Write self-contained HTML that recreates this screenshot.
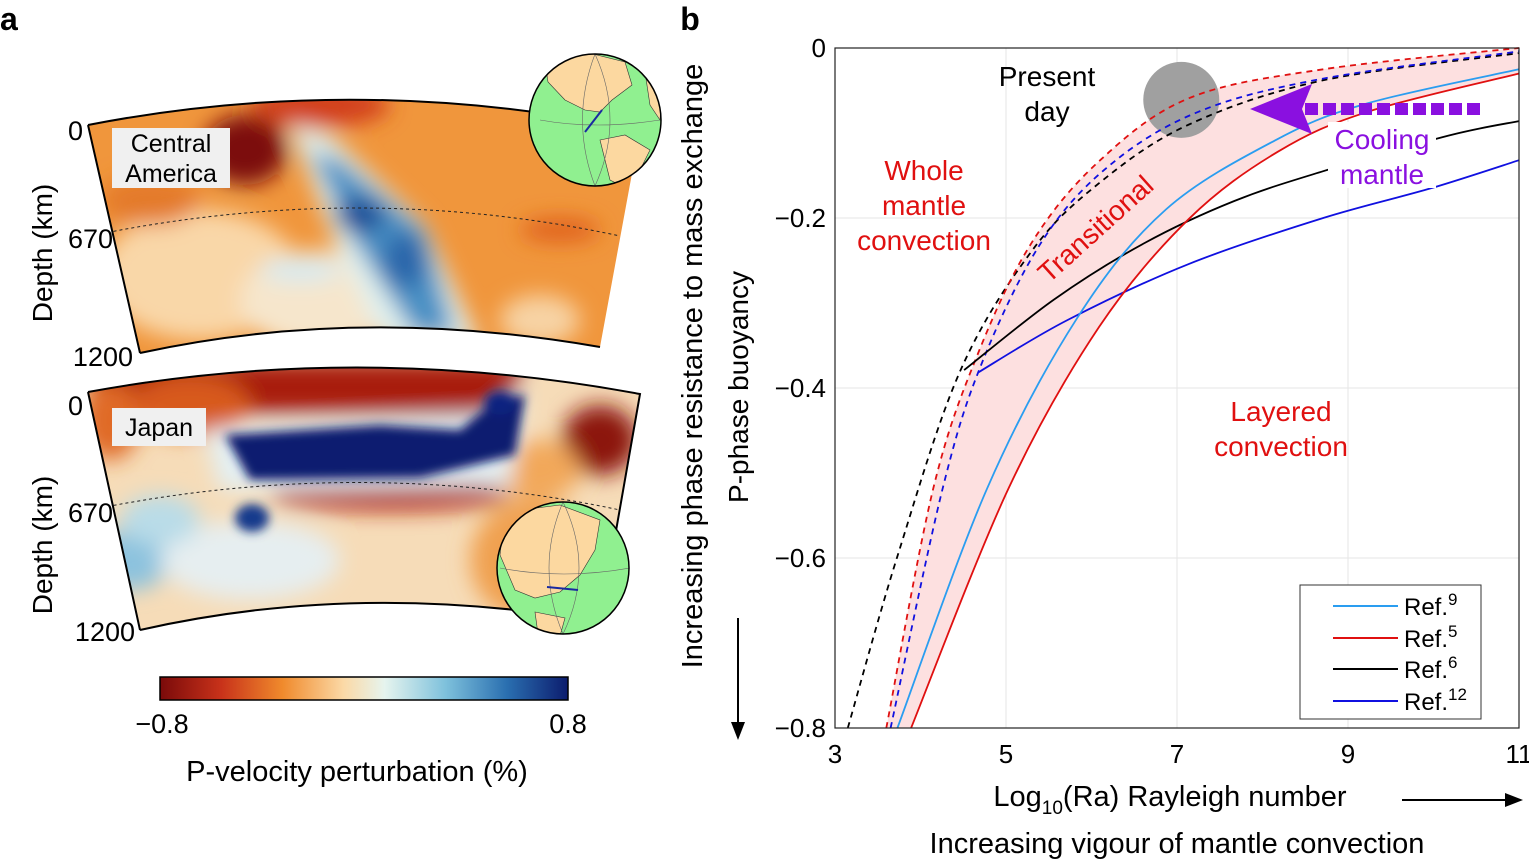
<!DOCTYPE html>
<html><head><meta charset="utf-8">
<style>
html,body{margin:0;padding:0;background:#fff;}
svg{display:block;font-family:"Liberation Sans",Arial,sans-serif;}
</style></head>
<body>
<svg id="fig" width="1529" height="860" viewBox="0 0 1529 860" xmlns="http://www.w3.org/2000/svg">
<defs>
  <linearGradient id="cbar" x1="0" x2="1" y1="0" y2="0">
    <stop offset="0" stop-color="#7a0a0a"/>
    <stop offset="0.15" stop-color="#c8321a"/>
    <stop offset="0.3" stop-color="#f08a2c"/>
    <stop offset="0.45" stop-color="#fbd9a6"/>
    <stop offset="0.55" stop-color="#e6f4ee"/>
    <stop offset="0.7" stop-color="#7ec1dc"/>
    <stop offset="0.85" stop-color="#2a6fb0"/>
    <stop offset="1" stop-color="#0c1c6e"/>
  </linearGradient>
  <filter id="blur12"><feGaussianBlur stdDeviation="11"/></filter>
  <filter id="blur7"><feGaussianBlur stdDeviation="5"/></filter>
  <clipPath id="clipTop"><path d="M88,125 Q360,72 640,130 L600,347 Q360,305 140,353 Z"/></clipPath>
  <clipPath id="clipBot"><path d="M88,392 Q360,342 640,394 L600,622 Q360,580 140,630 Z"/></clipPath>
  <clipPath id="clipG1"><circle cx="595" cy="120" r="66"/></clipPath>
  <clipPath id="clipG2"><circle cx="563" cy="568" r="66"/></clipPath>
</defs>

<text x="0" y="30" font-size="32" font-weight="bold">a</text>
<text x="690" y="30" font-size="32" font-weight="bold" text-anchor="middle">b</text>

<g>
  <g clip-path="url(#clipTop)">
    <rect x="80" y="60" width="570" height="300" fill="#f0963c"/>
    <g filter="url(#blur12)">
      <ellipse cx="200" cy="275" rx="100" ry="65" fill="#f9d7a8"/>
      <ellipse cx="320" cy="300" rx="80" ry="50" fill="#f6e6cc"/>
      <ellipse cx="245" cy="150" rx="42" ry="35" fill="#7c0f0c"/>
      <ellipse cx="320" cy="105" rx="70" ry="22" fill="#d2411c"/>
      <ellipse cx="150" cy="200" rx="50" ry="25" fill="#e47a2a"/>
      <path d="M290,125 L330,135 L425,225 L480,345 L385,345 L335,240 Z" fill="#e0f0ee"/>
      <path d="M310,150 L340,160 L425,230 L455,335 L415,335 L350,235 Z" fill="#4a90c4"/>
      <ellipse cx="360" cy="215" rx="25" ry="18" fill="#1d4f98"/>
      <ellipse cx="405" cy="260" rx="22" ry="28" fill="#2a66aa"/>
      <ellipse cx="300" cy="270" rx="40" ry="12" fill="#d7eaf0"/>
      <ellipse cx="560" cy="230" rx="40" ry="12" fill="#e0601a"/>
      <ellipse cx="540" cy="320" rx="40" ry="25" fill="#f7d3a4"/>
    </g>
    <path d="M90,236 Q360,180 620,236" fill="none" stroke="#222" stroke-width="1" stroke-dasharray="3,3"/>
  </g>
  <path d="M88,125 Q360,72 640,130 M600,347 Q360,305 140,353 M88,125 L140,353" fill="none" stroke="#000" stroke-width="2"/>
</g>

<g>
  <g clip-path="url(#clipBot)">
    <rect x="80" y="330" width="570" height="310" fill="#f6dcb8"/>
    <g filter="url(#blur12)">
      <rect x="90" y="360" width="430" height="55" fill="#a81f0d"/>
      <ellipse cx="110" cy="420" rx="30" ry="40" fill="#e06a25"/>
      <ellipse cx="190" cy="405" rx="60" ry="30" fill="#d85a1e"/>
      <ellipse cx="600" cy="440" rx="38" ry="35" fill="#8c150e"/>
      <ellipse cx="540" cy="470" rx="40" ry="30" fill="#f2a85a"/>
      <ellipse cx="390" cy="495" rx="120" ry="15" fill="#b0220f"/>
      <ellipse cx="530" cy="560" rx="60" ry="60" fill="#f0a050"/>
      <ellipse cx="130" cy="560" rx="40" ry="30" fill="#8cc2de"/>
      <ellipse cx="250" cy="560" rx="90" ry="40" fill="#e6eef0"/>
      <ellipse cx="160" cy="520" rx="40" ry="25" fill="#b9dce8"/>
      <path d="M205,430 L490,415 L525,385 L510,485 L220,490 Z" fill="#e3f0f4"/>
    </g>
    <g filter="url(#blur7)">
      <path d="M225,435 L380,425 L460,430 L495,400 L525,395 L515,455 L420,478 L250,480 Z" fill="#0a1a70"/>
      <ellipse cx="252" cy="518" rx="17" ry="14" fill="#173b8c"/>
      <ellipse cx="500" cy="403" rx="16" ry="12" fill="#0c2280"/>
    </g>
    <path d="M90,510 Q360,455 620,510" fill="none" stroke="#222" stroke-width="1" stroke-dasharray="3,3"/>
  </g>
  <path d="M88,392 Q360,342 640,394 L600,622 M600,622 Q360,580 140,630 M88,392 L140,630" fill="none" stroke="#000" stroke-width="2"/>
</g>

<rect x="112" y="128" width="118" height="60" fill="#f0f0f0"/>
<text x="171" y="152" font-size="25" text-anchor="middle"><tspan x="171">Central</tspan><tspan x="171" dy="30">America</tspan></text>
<rect x="112" y="408" width="94" height="38" fill="#f0f0f0"/>
<text x="159" y="436" font-size="25" text-anchor="middle">Japan</text>

<g font-size="27">
  <text x="83" y="140" text-anchor="end">0</text>
  <text x="113" y="248" text-anchor="end">670</text>
  <text x="133" y="366" text-anchor="end">1200</text>
  <text x="83" y="415" text-anchor="end">0</text>
  <text x="113" y="522" text-anchor="end">670</text>
  <text x="135" y="641" text-anchor="end">1200</text>
</g>
<text transform="translate(52,253) rotate(-90)" font-size="28" text-anchor="middle">Depth (km)</text>
<text transform="translate(52,545) rotate(-90)" font-size="28" text-anchor="middle">Depth (km)</text>

<g>
  <circle cx="595" cy="120" r="66" fill="#90f090"/>
  <g clip-path="url(#clipG1)">
    <path d="M545,62 L585,52 L625,62 L632,85 L612,100 L600,112 L585,110 L565,100 L548,82 Z" fill="#fcd8a0" stroke="#333" stroke-width="0.6"/>
    <path d="M600,140 L625,135 L650,150 L640,170 L620,185 L610,180 L605,160 Z" fill="#fcd8a0" stroke="#333" stroke-width="0.6"/>
    <path d="M645,72 L662,90 L660,120 L650,105 Z" fill="#fcd8a0" stroke="#333" stroke-width="0.6"/>
    <path d="M540,120 Q595,130 660,120 M595,54 Q570,120 595,186 M595,54 Q625,120 595,186" fill="none" stroke="#666" stroke-width="0.6"/>
  </g>
  <line x1="585" y1="132" x2="602" y2="110" stroke="#1a2aa0" stroke-width="2"/>
  <circle cx="595" cy="120" r="66" fill="none" stroke="#000" stroke-width="1.5"/>
</g>
<g>
  <circle cx="563" cy="568" r="66" fill="#90f090"/>
  <g clip-path="url(#clipG2)">
    <path d="M505,512 L560,505 L600,520 L595,550 L580,575 L560,592 L535,598 L515,590 L500,555 Z" fill="#fcd8a0" stroke="#333" stroke-width="0.6"/>
    <path d="M535,612 L565,618 L560,636 L538,634 Z" fill="#fcd8a0" stroke="#333" stroke-width="0.6"/>
    <path d="M500,568 Q563,580 630,568 M563,502 Q535,568 563,634 M563,502 Q595,568 563,634" fill="none" stroke="#666" stroke-width="0.6"/>
  </g>
  <line x1="547" y1="587" x2="578" y2="590" stroke="#1a2aa0" stroke-width="2"/>
  <circle cx="563" cy="568" r="66" fill="none" stroke="#000" stroke-width="1.5"/>
</g>

<rect x="160" y="677" width="408" height="23" fill="url(#cbar)" stroke="#000" stroke-width="1.5"/>
<text x="162" y="733" font-size="27" text-anchor="middle">−0.8</text>
<text x="568" y="733" font-size="27" text-anchor="middle">0.8</text>
<text x="357" y="781" font-size="29" text-anchor="middle">P-velocity perturbation (%)</text>

<g id="chart"></g>
</svg>

<script>
const xTicks = [3, 5, 7, 9, 11];
const yTicks = [0, -0.2, -0.4, -0.6, -0.8];
const yTickLabels = ["0", "−0.2", "−0.4", "−0.6", "−0.8"];
const ref9X = [3.73, 4.78, 5.83, 6.87, 8.18, 9.23, 11];
const ref9Y = [-0.8, -0.518, -0.318, -0.19, -0.107, -0.065, -0.025];
const ref5X = [3.89, 5.03, 6.09, 7.14, 8.18, 9.23, 11];
const ref5Y = [-0.8, -0.518, -0.328, -0.201, -0.122, -0.075, -0.03];
const ref6X = [4.51, 5.56, 6.61, 7.67, 8.71, 10.18, 11];
const ref6Y = [-0.379, -0.296, -0.23, -0.18, -0.145, -0.103, -0.086];
const ref12X = [4.67, 5.72, 7.14, 8.71, 9.97, 11];
const ref12Y = [-0.382, -0.32, -0.254, -0.2, -0.165, -0.132];
const dash6X = [3.15, 3.73, 4.46, 5.3, 6.09, 7.14, 8.71, 11];
const dash6Y = [-0.8, -0.598, -0.381, -0.239, -0.159, -0.09, -0.038, -0.006];
const dash5X = [3.6, 4.15, 4.67, 5.3, 6.09, 7.14, 8.71, 11];
const dash5Y = [-0.8, -0.518, -0.36, -0.229, -0.133, -0.059, -0.025, 0];
const dash12X = [3.65, 4.26, 4.72, 5.41, 6.2, 7.25, 8.71, 11];
const dash12Y = [-0.8, -0.518, -0.37, -0.229, -0.139, -0.075, -0.036, -0.004];
const presentDay = [7.05, -0.061];

const NS = "http://www.w3.org/2000/svg";
const X0 = 835, X1 = 1519, Y0 = 48, Y1 = 728;
function sx(v){ return X0 + (v - 3) / 8 * (X1 - X0); }
function sy(v){ return Y0 + (-v) / 0.8 * (Y1 - Y0); }
const g = document.getElementById("chart");
function mk(tag, attrs){ const e = document.createElementNS(NS, tag); for (const k in attrs) e.setAttribute(k, attrs[k]); g.appendChild(e); return e; }
function pts(xs, ys){ return xs.map((x,i)=>[sx(x), sy(ys[i])]); }
function smooth(p){
  let d = "M" + p[0][0].toFixed(1) + "," + p[0][1].toFixed(1);
  for (let i=0;i<p.length-1;i++){
    const p0=p[Math.max(0,i-1)], p1=p[i], p2=p[i+1], p3=p[Math.min(p.length-1,i+2)];
    const c1=[p1[0]+(p2[0]-p0[0])/6, p1[1]+(p2[1]-p0[1])/6];
    const c2=[p2[0]-(p3[0]-p1[0])/6, p2[1]-(p3[1]-p1[1])/6];
    d += " C"+c1[0].toFixed(1)+","+c1[1].toFixed(1)+" "+c2[0].toFixed(1)+","+c2[1].toFixed(1)+" "+p2[0].toFixed(1)+","+p2[1].toFixed(1);
  }
  return d;
}

xTicks.forEach(t => { if (t>3 && t<11) { const l = mk("line",{x1:sx(t),x2:sx(t),y1:Y0,y2:Y1,stroke:"#e6e6e6","stroke-width":1});

 } });
yTicks.forEach(t => { if (t<0 && t>-0.8) { const l = mk("line",{x1:X0,x2:X1,y1:sy(t),y2:sy(t),stroke:"#e6e6e6","stroke-width":1});

 } });

const band = mk("path",{d: smooth(pts(dash5X,dash5Y)) + " L" + sx(11) + "," + sy(ref5Y[ref5Y.length-1]) + " " + smooth(pts(ref5X,ref5Y).reverse()).replace("M"," L") + " Z", fill:"#fde0e0", stroke:"none"});



const pd = mk("circle",{cx:sx(presentDay[0]),cy:sy(presentDay[1]),r:38,fill:"#a0a0a0"});



const series = [
  [dash6X,dash6Y,"#000","6,5","dashed-ref6"],
  [dash12X,dash12Y,"#1010e0","6,5","dashed-ref12"],
  [dash5X,dash5Y,"#e01010","6,5","dashed-ref5"],
  [ref6X,ref6Y,"#000","","line-ref6"],
  [ref12X,ref12Y,"#1010e0","","line-ref12"],
  [ref9X,ref9Y,"#2a9df0","","line-ref9"],
  [ref5X,ref5Y,"#e01010","","line-ref5"]
];
series.forEach(s => {
  const a = {d:smooth(pts(s[0],s[1])),fill:"none",stroke:s[2],"stroke-width":1.8};
  if (s[3]) a["stroke-dasharray"] = s[3];
  const p = mk("path",a);
  
  
});

const box = mk("rect",{x:X0,y:Y0,width:X1-X0,height:Y1-Y0,fill:"none",stroke:"#222","stroke-width":1.2});



xTicks.forEach(t => {
  const tl = mk("text",{x:sx(t),y:763,"font-size":26,"text-anchor":"middle"}); tl.textContent = t;
  
  
});
yTicks.forEach((t,i) => {
  const tl = mk("text",{x:826,y:sy(t)+9,"font-size":26,"text-anchor":"end"}); tl.textContent = yTickLabels[i];
  
  
});
</script>

<script>
(function(){
const svg = document.getElementById("fig");
svg.insertAdjacentHTML("beforeend", `
<g>
  <line x1="1480" y1="109" x2="1300" y2="109" stroke="#8a10e0" stroke-width="12" stroke-dasharray="13,5"/>
  <polygon points="1250,109 1312,84 1302,109 1312,134" fill="#8a10e0"/>
</g>
<text x="1047" y="86" font-size="28" text-anchor="middle"><tspan x="1047">Present</tspan><tspan x="1047" dy="35">day</tspan></text>
<text x="924" y="180" font-size="28" fill="#e01010" text-anchor="middle"><tspan x="924">Whole</tspan><tspan x="924" dy="35">mantle</tspan><tspan x="924" dy="35">convection</tspan></text>
<text transform="translate(1102,236) rotate(-42)" font-size="28" fill="#e01010" text-anchor="middle">Transitional</text>
<rect x="1328" y="122" width="108" height="66" fill="#fff"/>
<text x="1382" y="149" font-size="28" fill="#8a10e0" text-anchor="middle"><tspan x="1382">Cooling</tspan><tspan x="1382" dy="35">mantle</tspan></text>
<text x="1281" y="421" font-size="28" fill="#e01010" text-anchor="middle"><tspan x="1281">Layered</tspan><tspan x="1281" dy="35">convection</tspan></text>
<g font-size="24">
  <rect x="1300" y="585" width="181" height="134" fill="#fff" stroke="#333" stroke-width="1"/>
  <line x1="1333" x2="1398" y1="606" y2="606" stroke="#2a9df0" stroke-width="2"/>
  <line x1="1333" x2="1398" y1="638" y2="638" stroke="#e01010" stroke-width="2"/>
  <line x1="1333" x2="1398" y1="669" y2="669" stroke="#000" stroke-width="2"/>
  <line x1="1333" x2="1398" y1="701" y2="701" stroke="#1010e0" stroke-width="2"/>
  <text x="1404" y="615">Ref.<tspan dy="-10" font-size="17">9</tspan></text>
  <text x="1404" y="647">Ref.<tspan dy="-10" font-size="17">5</tspan></text>
  <text x="1404" y="678">Ref.<tspan dy="-10" font-size="17">6</tspan></text>
  <text x="1404" y="710">Ref.<tspan dy="-10" font-size="17">12</tspan></text>
</g>
<text transform="translate(748,387) rotate(-90)" font-size="28" text-anchor="middle">P-phase buoyancy</text>
<text transform="translate(702,366) rotate(-90)" font-size="29" text-anchor="middle">Increasing phase resistance to mass exchange</text>
<g><line x1="738" y1="618" x2="738" y2="725" stroke="#000" stroke-width="2"/><polygon points="731,722 745,722 738,740" fill="#000"/></g>
<text x="1170" y="806" font-size="29" text-anchor="middle">Log<tspan dy="8" font-size="19">10</tspan><tspan dy="-8">(Ra) Rayleigh number</tspan></text>
<g><line x1="1402" y1="800" x2="1508" y2="800" stroke="#000" stroke-width="2"/><polygon points="1505,793 1505,807 1523,800" fill="#000"/></g>
<text x="1177" y="853" font-size="29" text-anchor="middle">Increasing vigour of mantle convection</text>
`);
})();
</script>
</body></html>
